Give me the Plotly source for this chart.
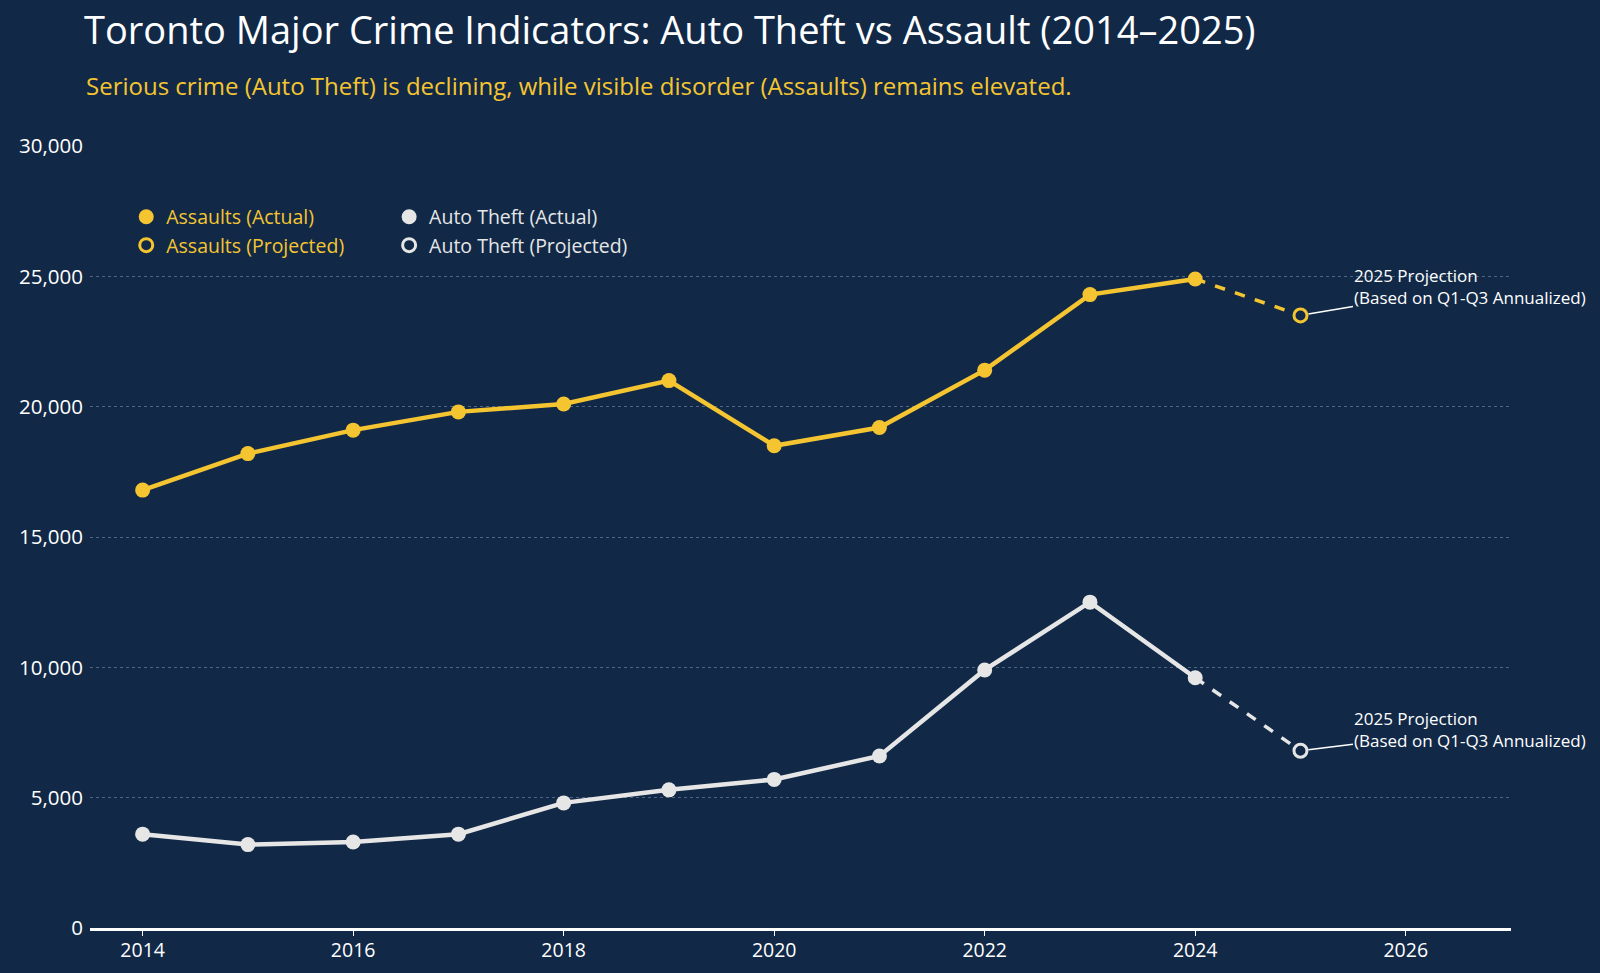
import plotly.graph_objects as go

years = [2014, 2015, 2016, 2017, 2018, 2019, 2020, 2021, 2022, 2023, 2024]
assaults = [16800, 18200, 19100, 19800, 20100, 21000, 18500, 19200, 21400, 24300, 24900]
auto_theft = [3600, 3200, 3300, 3600, 4800, 5300, 5700, 6600, 9900, 12500, 9600]
proj_year = 2025
assaults_proj = 23500
auto_theft_proj = 6800

y_ticks = [0, 5000, 10000, 15000, 20000, 25000, 30000]
x_ticks = [2014, 2016, 2018, 2020, 2022, 2024, 2026]

BG = "#112947"
YEL = "#F5C531"
WHT = "#E6E6E6"
FONT = "Open Sans"

fig = go.Figure()

# Assaults
fig.add_trace(go.Scatter(x=years, y=assaults, mode="lines", line=dict(color=YEL, width=4.5),
                         showlegend=False, hoverinfo="skip"))
fig.add_trace(go.Scatter(x=[years[-1], proj_year], y=[assaults[-1], assaults_proj], mode="lines",
                         line=dict(color=YEL, width=3.5, dash="dash"), showlegend=False, hoverinfo="skip"))
fig.add_trace(go.Scatter(x=years, y=assaults, mode="markers", name="Assaults (Actual)",
                         marker=dict(color=YEL, size=15), legend="legend"))
fig.add_trace(go.Scatter(x=[proj_year], y=[assaults_proj], mode="markers", name="Assaults (Projected)",
                         marker=dict(color=BG, size=13, line=dict(color=YEL, width=3)), legend="legend"))

# Auto theft
fig.add_trace(go.Scatter(x=years, y=auto_theft, mode="lines", line=dict(color=WHT, width=4.5),
                         showlegend=False, hoverinfo="skip"))
fig.add_trace(go.Scatter(x=[years[-1], proj_year], y=[auto_theft[-1], auto_theft_proj], mode="lines",
                         line=dict(color=WHT, width=3.5, dash="dash"), showlegend=False, hoverinfo="skip"))
fig.add_trace(go.Scatter(x=years, y=auto_theft, mode="markers", name="Auto Theft (Actual)",
                         marker=dict(color=WHT, size=15), legend="legend2"))
fig.add_trace(go.Scatter(x=[proj_year], y=[auto_theft_proj], mode="markers", name="Auto Theft (Projected)",
                         marker=dict(color=BG, size=13, line=dict(color=WHT, width=3)), legend="legend2"))

ann_text = "2025 Projection<br>(Based on Q1-Q3 Annualized)"
for yv, ay in [(assaults_proj, -29), (auto_theft_proj, -21)]:
    fig.add_annotation(x=proj_year, y=yv, text=ann_text, showarrow=True, arrowhead=0,
                       arrowcolor="white", arrowwidth=1.5, ax=170, ay=ay, standoff=8,
                       align="left", font=dict(family=FONT, size=17, color="white"))

fig.add_annotation(xref="paper", yref="paper", x=-0.0042, y=1.077, xanchor="left", yanchor="middle",
                   text="Serious crime (Auto Theft) is declining, while visible disorder (Assaults) remains elevated.",
                   showarrow=False, font=dict(family=FONT, size=24, color=YEL))

fig.update_layout(
    width=1600, height=973,
    paper_bgcolor=BG, plot_bgcolor=BG,
    margin=dict(l=90, r=89, t=146, b=45),
    title=dict(text="Toronto Major Crime Indicators: Auto Theft vs Assault (2014\u20132025)",
               x=84 / 1600, xanchor="left", xref="container",
               y=1 - 31 / 973, yanchor="middle", yref="container",
               font=dict(family=FONT, size=38, color="white")),
    font=dict(family=FONT, color=WHT),
    legend=dict(x=0.0255, y=0.934, xanchor="left", yanchor="top", bgcolor="rgba(0,0,0,0)",
                font=dict(family=FONT, size=19.5, color=YEL), traceorder="normal", tracegroupgap=0),
    legend2=dict(x=0.2105, y=0.934, xanchor="left", yanchor="top", bgcolor="rgba(0,0,0,0)",
                 font=dict(family=FONT, size=19.5, color=WHT), traceorder="normal", tracegroupgap=0),
    xaxis=dict(range=[2013.5, 2027.0], tickvals=x_ticks, showgrid=False, zeroline=False,
               showline=True, linecolor="white", linewidth=3, ticks="outside", ticklen=5,
               tickcolor="white", tickwidth=1, automargin=False, ticklabelstandoff=-2,
               tickfont=dict(family=FONT, size=19.5, color="white")),
    yaxis=dict(range=[0, 30000], tickvals=y_ticks, tickformat=",", showgrid=True,
               gridcolor="#4f6583", griddash="dot", gridwidth=1, zeroline=False, showline=False,
               ticks="", ticklabelstandoff=6, automargin=False,
               tickfont=dict(family=FONT, size=20.5, color="white")),
    showlegend=True,
)

fig.write_html("out.html")
